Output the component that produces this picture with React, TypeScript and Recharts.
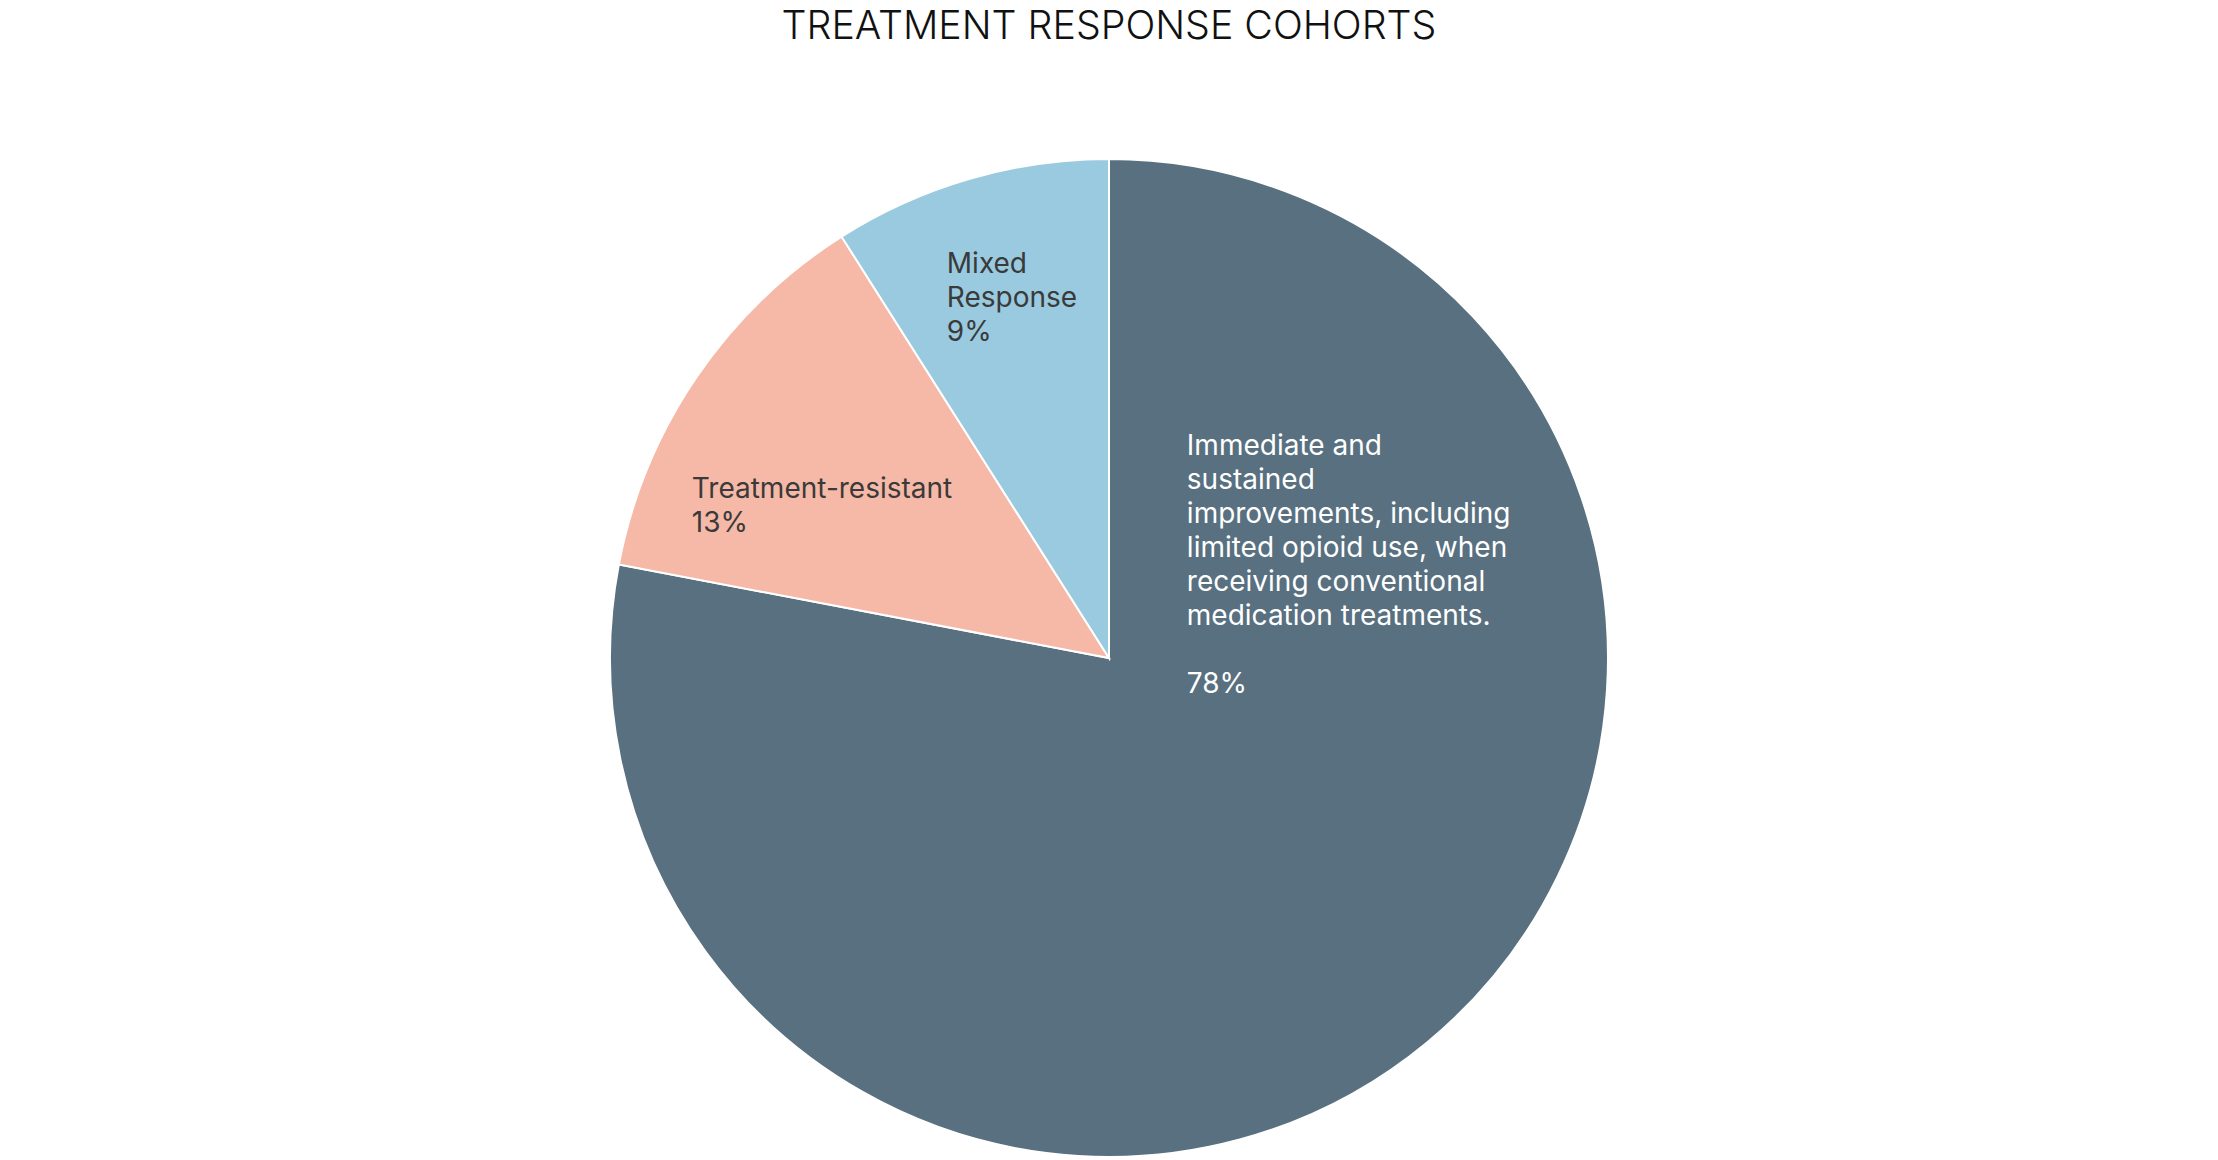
import React from 'react';
import { PieChart, Pie, Cell } from 'recharts';

const categories = [
  'Immediate and sustained improvements, including limited opioid use, when receiving conventional medication treatments.',
  'Treatment-resistant',
  'Mixed Response',
];
const shares = [78, 13, 9];
const labelLines = [
  ['Immediate and', 'sustained', 'improvements, including', 'limited opioid use, when', 'receiving conventional', 'medication treatments.', ''],
  ['Treatment-resistant'],
  ['Mixed', 'Response'],
];

const COLORS = ['#58707f', '#f6b9a7', '#99cadf'];
const TEXT_COLORS = ['#ffffff', '#3a3a3a', '#3a3a3a'];
// label anchor, in units of the radius, from the pie centre
const LABEL_OFFSETS = [
  [0.156, -0.407],
  [-0.836, -0.32],
  [-0.325, -0.772],
];

const WIDTH = 2218;
const HEIGHT = 1160;
const FONT = 'Inter, "Noto Sans", sans-serif';
const LINE_H = 34;

const data = categories.map((name, i) => ({ name, value: shares[i] }));

const renderLabel = (props: any) => {
  const { cx, cy, outerRadius, index, value } = props;
  const [ox, oy] = LABEL_OFFSETS[index];
  const x = cx + ox * outerRadius;
  const y = cy + oy * outerRadius;
  const lines = [...labelLines[index], `${value}%`];
  return (
    <text
      x={x}
      y={y}
      fill={TEXT_COLORS[index]}
      fontFamily={FONT}
      fontSize={28}
      textAnchor="start"
    >
      {lines.map((l, i) => (
        <tspan key={i} x={x} y={y + i * LINE_H}>
          {l === '' ? '\u00a0' : l}
        </tspan>
      ))}
    </text>
  );
};

const App: React.FC = () => {
  return (
    <div
      style={{
        position: 'absolute',
        top: 0,
        left: 0,
        width: WIDTH,
        height: HEIGHT,
        background: '#fff',
      }}
    >
      <div
        style={{
          position: 'absolute',
          top: 0,
          left: 0,
          width: WIDTH,
          textAlign: 'center',
          fontFamily: FONT,
          fontWeight: 300,
          fontSize: 39.3,
          lineHeight: '50px',
          color: '#111',
        }}
      >
        TREATMENT RESPONSE COHORTS
      </div>
      <PieChart width={WIDTH} height={HEIGHT} margin={{ top: 0, right: 0, bottom: 0, left: 0 }}>
        <Pie
          data={data}
          dataKey="value"
          nameKey="name"
          cx={1109}
          cy={658}
          outerRadius={499}
          startAngle={90}
          endAngle={-270}
          stroke="#ffffff"
          strokeWidth={2}
          labelLine={false}
          label={renderLabel}
          isAnimationActive={false}
        >
          {data.map((entry, index) => (
            <Cell key={`cell-${index}`} fill={COLORS[index]} />
          ))}
        </Pie>
      </PieChart>
    </div>
  );
};

export default App;
